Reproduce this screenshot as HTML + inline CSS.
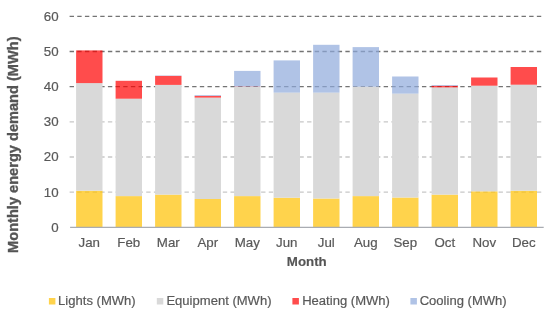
<!DOCTYPE html>
<html><head><meta charset="utf-8"><title>Monthly energy demand</title>
<style>
html,body{margin:0;padding:0;background:#fff;}
body{width:550px;height:313px;overflow:hidden;}
svg{display:block;font-family:"Liberation Sans",Arial,sans-serif;}
.t{font-size:13.3px;fill:#595959;stroke:#595959;stroke-width:0.2px;}
.b{font-size:13.3px;fill:#555;font-weight:bold;stroke:#555;stroke-width:0.35px;}
</style></head><body>
<svg width="550" height="313" viewBox="0 0 550 313">
<rect width="550" height="313" fill="#fff"/>
<line x1="69.6" x2="543.6" y1="16.45" y2="16.45" stroke="#747474" stroke-width="1.3" stroke-dasharray="4.38 3.28"/>
<line x1="69.6" x2="543.6" y1="51.50" y2="51.50" stroke="#747474" stroke-width="1.3" stroke-dasharray="4.38 3.28"/>
<line x1="69.6" x2="543.6" y1="86.60" y2="86.60" stroke="#747474" stroke-width="1.3" stroke-dasharray="4.38 3.28"/>
<line x1="69.6" x2="543.6" y1="121.80" y2="121.80" stroke="#c8c8c8" stroke-width="1.3" stroke-dasharray="4.38 3.28"/>
<line x1="69.6" x2="543.6" y1="157.00" y2="157.00" stroke="#c8c8c8" stroke-width="1.3" stroke-dasharray="4.38 3.28"/>
<line x1="69.6" x2="543.6" y1="192.20" y2="192.20" stroke="#c8c8c8" stroke-width="1.3" stroke-dasharray="4.38 3.28"/>
<rect x="76.10" y="190.70" width="26.4" height="36.65" fill="#FFC000" fill-opacity="0.7"/>
<rect x="76.10" y="83.10" width="26.4" height="107.60" fill="#D9D9D9" fill-opacity="1"/>
<rect x="76.10" y="50.40" width="26.4" height="32.70" fill="#FF0000" fill-opacity="0.7"/>
<rect x="115.60" y="196.10" width="26.4" height="31.25" fill="#FFC000" fill-opacity="0.7"/>
<rect x="115.60" y="98.70" width="26.4" height="97.40" fill="#D9D9D9" fill-opacity="1"/>
<rect x="115.60" y="80.80" width="26.4" height="17.90" fill="#FF0000" fill-opacity="0.7"/>
<rect x="155.10" y="194.60" width="26.4" height="32.75" fill="#FFC000" fill-opacity="0.7"/>
<rect x="155.10" y="84.90" width="26.4" height="109.70" fill="#D9D9D9" fill-opacity="1"/>
<rect x="155.10" y="75.90" width="26.4" height="9.00" fill="#FF0000" fill-opacity="0.7"/>
<rect x="155.10" y="75.50" width="26.4" height="0.40" fill="#8FAADC" fill-opacity="0.7"/>
<rect x="194.60" y="199.00" width="26.4" height="28.35" fill="#FFC000" fill-opacity="0.7"/>
<rect x="194.60" y="97.60" width="26.4" height="101.40" fill="#D9D9D9" fill-opacity="1"/>
<rect x="194.60" y="95.90" width="26.4" height="1.70" fill="#FF0000" fill-opacity="0.7"/>
<rect x="194.60" y="95.10" width="26.4" height="0.80" fill="#8FAADC" fill-opacity="0.7"/>
<rect x="234.10" y="196.10" width="26.4" height="31.25" fill="#FFC000" fill-opacity="0.7"/>
<rect x="234.10" y="86.80" width="26.4" height="109.30" fill="#D9D9D9" fill-opacity="1"/>
<rect x="234.10" y="86.50" width="26.4" height="0.30" fill="#FF0000" fill-opacity="0.7"/>
<rect x="234.10" y="70.90" width="26.4" height="15.60" fill="#8FAADC" fill-opacity="0.7"/>
<rect x="273.60" y="197.70" width="26.4" height="29.65" fill="#FFC000" fill-opacity="0.7"/>
<rect x="273.60" y="92.60" width="26.4" height="105.10" fill="#D9D9D9" fill-opacity="1"/>
<rect x="273.60" y="60.40" width="26.4" height="32.20" fill="#8FAADC" fill-opacity="0.7"/>
<rect x="313.10" y="198.50" width="26.4" height="28.85" fill="#FFC000" fill-opacity="0.7"/>
<rect x="313.10" y="92.60" width="26.4" height="105.90" fill="#D9D9D9" fill-opacity="1"/>
<rect x="313.10" y="44.80" width="26.4" height="47.80" fill="#8FAADC" fill-opacity="0.7"/>
<rect x="352.60" y="196.10" width="26.4" height="31.25" fill="#FFC000" fill-opacity="0.7"/>
<rect x="352.60" y="86.70" width="26.4" height="109.40" fill="#D9D9D9" fill-opacity="1"/>
<rect x="352.60" y="47.10" width="26.4" height="39.60" fill="#8FAADC" fill-opacity="0.7"/>
<rect x="392.10" y="197.50" width="26.4" height="29.85" fill="#FFC000" fill-opacity="0.7"/>
<rect x="392.10" y="93.60" width="26.4" height="103.90" fill="#D9D9D9" fill-opacity="1"/>
<rect x="392.10" y="76.50" width="26.4" height="17.10" fill="#8FAADC" fill-opacity="0.7"/>
<rect x="431.60" y="194.60" width="26.4" height="32.75" fill="#FFC000" fill-opacity="0.7"/>
<rect x="431.60" y="87.40" width="26.4" height="107.20" fill="#D9D9D9" fill-opacity="1"/>
<rect x="431.60" y="85.80" width="26.4" height="1.60" fill="#FF0000" fill-opacity="0.7"/>
<rect x="431.60" y="85.00" width="26.4" height="0.80" fill="#8FAADC" fill-opacity="0.7"/>
<rect x="471.10" y="191.30" width="26.4" height="36.05" fill="#FFC000" fill-opacity="0.7"/>
<rect x="471.10" y="85.70" width="26.4" height="105.60" fill="#D9D9D9" fill-opacity="1"/>
<rect x="471.10" y="77.50" width="26.4" height="8.20" fill="#FF0000" fill-opacity="0.7"/>
<rect x="510.60" y="190.70" width="26.4" height="36.65" fill="#FFC000" fill-opacity="0.7"/>
<rect x="510.60" y="84.70" width="26.4" height="106.00" fill="#D9D9D9" fill-opacity="1"/>
<rect x="510.60" y="67.00" width="26.4" height="17.70" fill="#FF0000" fill-opacity="0.7"/>
<line x1="70.1" x2="543.7" y1="227.3" y2="227.3" stroke="#a9acb2" stroke-width="1.15"/>
<text class="t" x="58.6" y="20.90" text-anchor="end">60</text>
<text class="t" x="58.6" y="55.95" text-anchor="end">50</text>
<text class="t" x="58.6" y="91.05" text-anchor="end">40</text>
<text class="t" x="58.6" y="126.25" text-anchor="end">30</text>
<text class="t" x="58.6" y="161.45" text-anchor="end">20</text>
<text class="t" x="58.6" y="196.65" text-anchor="end">10</text>
<text class="t" x="58.6" y="231.75" text-anchor="end">0</text>
<text class="t" x="89.30" y="247.1" text-anchor="middle">Jan</text>
<text class="t" x="128.80" y="247.1" text-anchor="middle">Feb</text>
<text class="t" x="168.30" y="247.1" text-anchor="middle">Mar</text>
<text class="t" x="207.80" y="247.1" text-anchor="middle">Apr</text>
<text class="t" x="247.30" y="247.1" text-anchor="middle">May</text>
<text class="t" x="286.80" y="247.1" text-anchor="middle">Jun</text>
<text class="t" x="326.30" y="247.1" text-anchor="middle">Jul</text>
<text class="t" x="365.80" y="247.1" text-anchor="middle">Aug</text>
<text class="t" x="405.30" y="247.1" text-anchor="middle">Sep</text>
<text class="t" x="444.80" y="247.1" text-anchor="middle">Oct</text>
<text class="t" x="484.30" y="247.1" text-anchor="middle">Nov</text>
<text class="t" x="523.80" y="247.1" text-anchor="middle">Dec</text>
<text class="b" style="stroke-width:0.15px" x="306.8" y="266.3" text-anchor="middle">Month</text>
<text class="b" style="font-size:14.6px" transform="translate(18.3,144.7) rotate(-90)" text-anchor="middle">Monthly energy demand (MWh)</text>
<rect x="48.9" y="298" width="6.5" height="6.5" fill="#FFC000" fill-opacity="0.7"/>
<text class="t" style="font-size:13.05px" x="58.1" y="305.2">Lights (MWh)</text>
<rect x="156.8" y="298" width="6.5" height="6.5" fill="#D9D9D9" fill-opacity="1"/>
<text class="t" style="font-size:13.05px" x="166.4" y="305.2">Equipment (MWh)</text>
<rect x="292.4" y="298" width="6.5" height="6.5" fill="#FF0000" fill-opacity="0.7"/>
<text class="t" style="font-size:13.05px" x="302.2" y="305.2">Heating (MWh)</text>
<rect x="410.4" y="298" width="6.5" height="6.5" fill="#8FAADC" fill-opacity="0.7"/>
<text class="t" style="font-size:13.05px" x="419.7" y="305.2">Cooling (MWh)</text>
</svg></body></html>
